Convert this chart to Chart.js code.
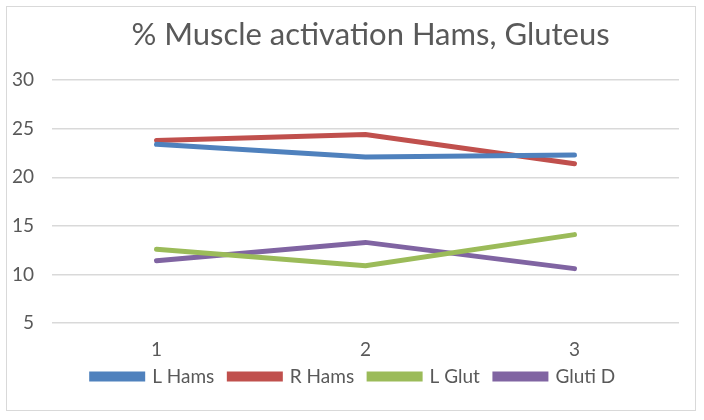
<!DOCTYPE html>
<html>
<head>
<meta charset="utf-8">
<script src="https://cdn.jsdelivr.net/npm/chart.js@4/dist/chart.umd.min.js"></script>
<style>
  html, body { margin: 0; padding: 0; background: #ffffff; }
  #wrap { width: 704px; height: 420px; }
</style>
</head>
<body>
<div id="wrap"><canvas id="chart"></canvas></div>
<script>
// categories and series
const categories = ['1', '2', '3'];
const lHams = [23.4, 22.1, 22.3];
const rHams = [23.8, 24.4, 21.4];
const lGlut = [12.6, 10.9, 14.1];
const glutiD = [11.4, 13.3, 10.6];
const yTicks = [5, 10, 15, 20, 25, 30];

const textColor = '#595959';
const fontFamily = 'Lato, "Open Sans", sans-serif';

// thin grey frame round the chart, like the Excel chart border
const framePlugin = {
  id: 'frame',
  beforeDraw(chart) {
    const ctx = chart.ctx;
    ctx.save();
    ctx.fillStyle = '#ffffff';
    ctx.fillRect(0, 0, chart.width, chart.height);
    ctx.strokeStyle = '#d9d9d9';
    ctx.lineWidth = 1;
    ctx.strokeRect(6.5, 6.5, 689, 404);
    ctx.restore();
  }
};

// Excel puts the title a bit right of centre and the legend close under the axis labels
const boxShift = {
  id: 'boxShift',
  afterLayout(chart) {
    const t = chart.titleBlock;
    if (t) { t.left += 27; t.right += 27; }
    const l = chart.legend;
    if (l) {
      l.top -= 24; l.bottom -= 24;
      l.left += 10; l.right += 10;
    }
  }
};

function series(label, data, color) {
  return {
    label: label,
    data: data,
    borderColor: color,
    backgroundColor: color,
    borderWidth: 5,
    pointRadius: 0,
    borderCapStyle: 'round',
    tension: 0
  };
}

new Chart(document.getElementById('chart'), {
  type: 'line',
  data: {
    labels: categories,
    datasets: [
      series('L Hams', lHams, '#4f81bd'),
      series('R Hams', rHams, '#c0504d'),
      series('L Glut', lGlut, '#9bbb59'),
      series('Gluti D', glutiD, '#8064a2')
    ]
  },
  options: {
    responsive: true,
    maintainAspectRatio: false,
    animation: false,
    layout: { padding: { left: 8, right: 25, top: 16, bottom: 0 } },
    plugins: {
      title: {
        display: true,
        text: '% Muscle activation Hams, Gluteus',
        color: textColor,
        font: { family: fontFamily, size: 31, weight: 'normal' },
        padding: { top: 0, bottom: 27 }
      },
      legend: {
        position: 'bottom',
        labels: {
          color: textColor,
          font: { family: fontFamily, size: 19 },
          boxWidth: 51,
          boxHeight: 5,
          padding: 15
        }
      },
      tooltip: { enabled: false }
    },
    scales: {
      x: {
        offset: true,
        grid: { display: false, drawTicks: false },
        border: { display: false },
        ticks: { color: textColor, font: { family: fontFamily, size: 19, lineHeight: 1.0 }, padding: 17 }
      },
      y: {
        min: 5,
        max: 30,
        afterBuildTicks: (axis) => { axis.ticks = yTicks.map(v => ({ value: v })); },
        afterFit: (axis) => { axis.width = 44; },
        grid: { color: '#d9d9d9', lineWidth: 1.5, drawTicks: false },
        border: { display: false },
        ticks: { color: textColor, font: { family: fontFamily, size: 19 }, padding: 18 }
      }
    }
  },
  plugins: [framePlugin, boxShift]
});
</script>
</body>
</html>
